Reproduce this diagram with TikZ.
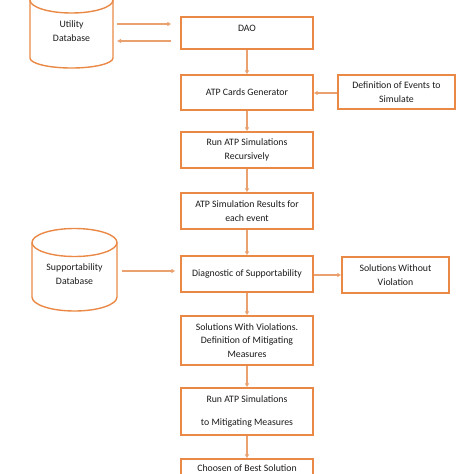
\documentclass[tikz,border=0pt]{standalone}
\usepackage{fontspec}
\setmainfont{Carlito}
\usetikzlibrary{arrows.meta}
\definecolor{bord}{HTML}{EA8845}
\definecolor{arr}{HTML}{EBA16F}
\definecolor{txtc}{HTML}{1A1A1A}
\tikzset{
  box/.style={draw=bord, line width=1.4pt, rectangle, inner sep=0pt, align=center, text=txtc, font=\fontsize{9.8}{13.6}\selectfont},
  txt/.style={inner sep=0pt, align=center, text=txtc, font=\fontsize{9.8}{13.6}\selectfont},
  cyl/.style={draw=bord, line width=1.4pt},
  conn/.style={draw=arr, line width=2pt, -{Latex[length=4pt,width=4.8pt]}}
}
\begin{document}
\begin{tikzpicture}[x=1pt,y=-1pt]
\useasboundingbox (0,0) rectangle (474,474);
% Utility database cylinder
\draw[cyl] (71.5,0) ellipse [x radius=41.5pt, y radius=13pt];
\draw[cyl] (30,0) -- (30,58) arc[start angle=180, end angle=360, x radius=41.5pt, y radius=10pt] -- (113,0);
\node[txt] (util) at (71.5,31) {Utility\\Database};
\coordinate (utilR1) at (117,24);
\coordinate (utilR2) at (117,41);
% Supportability database cylinder
\draw[cyl] (74.5,242.5) ellipse [x radius=42.5pt, y radius=14pt];
\draw[cyl] (32,242.5) -- (32,297) arc[start angle=180, end angle=360, x radius=42.5pt, y radius=14pt] -- (117,242.5);
\node[txt] (supp) at (74.5,274) {Supportability\\Database};
\coordinate (suppR) at (122,271);

% boxes
\node[box, minimum width=132pt, minimum height=32pt] (dao) at (247,33) {};
\node[txt] (daot) at (247,28) {DAO};
\node[box, minimum width=132pt, minimum height=35pt] (atp) at (247,92.5) {ATP Cards Generator};
\node[box, minimum width=117pt, minimum height=34pt] (def) at (396.5,92) {Definition of Events to\\Simulate};
\node[box, minimum width=132pt, minimum height=36pt] (run) at (247,150) {Run ATP Simulations\\Recursively};
\node[box, minimum width=132pt, minimum height=36pt] (res) at (247,211) {ATP Simulation Results for\\each event};
\node[box, minimum width=132pt, minimum height=36pt] (diag) at (247,274) {Diagnostic of Supportability};
\node[box, minimum width=107pt, minimum height=36pt] (wo) at (395.5,275) {Solutions Without\\Violation};
\node[box, minimum width=132pt, minimum height=49pt] (wv) at (247,340.5) {Solutions With Violations.\\Definition of Mitigating\\Measures};
\node[box, minimum width=132pt, minimum height=47pt] (mit) at (247,411.5) {Run ATP Simulations\\[9pt]to Mitigating Measures};
\node[box, minimum width=132pt, minimum height=52pt] (best) at (247,485) {};
\node[txt] (bestt) at (247,468) {Choosen of Best Solution};

% connectors
\draw[conn, shorten >=9pt] (utilR1) -- (dao.west |- utilR1);
\draw[conn, shorten <=9pt] (dao.west |- utilR2) -- (utilR2);
\draw[conn] (dao) -- (atp);
\draw[conn] (def.west |- 0,93) -- (atp.east |- 0,93);
\draw[conn] (atp) -- (run);
\draw[conn] (run) -- (res);
\draw[conn] (res) -- (diag);
\draw[conn, shorten >=5pt] (suppR) -- (diag.west |- suppR);
\draw[conn] (diag.east |- 0,275) -- (wo.west |- 0,275);
\draw[conn] (diag) -- (wv);
\draw[conn] (wv) -- (mit);
\draw[conn] (mit) -- (best);
\end{tikzpicture}
\end{document}
